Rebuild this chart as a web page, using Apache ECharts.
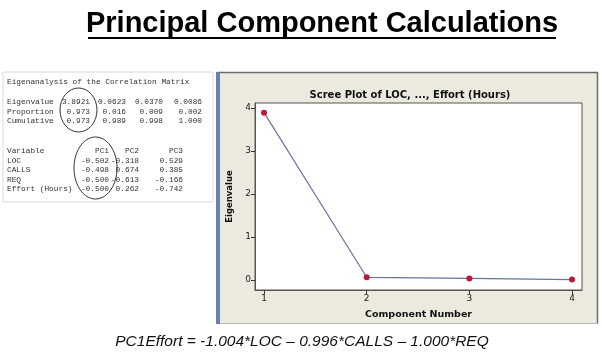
<!DOCTYPE html>
<html><head><meta charset="utf-8">
<script src="https://cdn.jsdelivr.net/npm/echarts@6/dist/echarts.min.js"></script>
<style>html,body{margin:0;padding:0;background:#fff}#c{width:602px;height:364px}</style>
</head><body><div id="c"></div>
<script>
// ---- data ----
const components = [1, 2, 3, 4];
const eigenvalues = [3.8921, 0.0623, 0.0370, 0.0086];
const eigenText = ['3.8921', '0.0623', '0.0370', '0.0086'];
const proportion = ['0.973', '0.016', '0.009', '0.002'];
const cumulative = ['0.973', '0.989', '0.998', '1.000'];
const variables = ['LOC', 'CALLS', 'REQ', 'Effort (Hours)'];
const pcHeaders = ['PC1', 'PC2', 'PC3'];
const pc1 = ['-0.502', '-0.498', '-0.500', '-0.500'];
const pc2 = ['-0.318', '0.674', '-0.613', '0.262'];
const pc3 = ['0.529', '0.385', '-0.166', '-0.742'];
const xTicks = [1, 2, 3, 4];
const yTicks = [0, 1, 2, 3, 4];
const pageTitle = 'Principal Component Calculations';
const chartTitle = 'Scree Plot of LOC, ..., Effort (Hours)';
const equation = 'PC1Effort = -1.004*LOC \u2013 0.996*CALLS \u2013 1.000*REQ';

// ---- build ----
const mono = { fontFamily: 'Liberation Mono', fontSize: 7.8, fill: '#333' };
const g = [];
function txt(x, y, t, align, extra) {
  g.push({ type: 'text', x: x, y: y, z: 5,
    style: Object.assign({ text: t, textAlign: align || 'left', textVerticalAlign: 'middle' }, mono, extra || {}) });
}
// backgrounds
g.push({ type: 'rect', z: -10, shape: { x: 3, y: 72, width: 210, height: 130 }, style: { fill: '#fff', stroke: '#dadada', lineWidth: 1 } });
g.push({ type: 'rect', z: -10, shape: { x: 217, y: 72, width: 381, height: 252 }, style: { fill: '#ECE9DF', stroke: null } });
g.push({ type: 'line', z: -9, shape: { x1: 217, y1: 72.5, x2: 598, y2: 72.5 }, style: { stroke: '#6b6b6b', lineWidth: 1.5 } });
g.push({ type: 'line', z: -9, shape: { x1: 597.5, y1: 72, x2: 597.5, y2: 324 }, style: { stroke: '#6b6b6b', lineWidth: 1.5 } });
g.push({ type: 'line', z: -9, shape: { x1: 217, y1: 323.5, x2: 598, y2: 323.5 }, style: { stroke: '#b8b6ad', lineWidth: 1 } });
g.push({ type: 'rect', z: -9, shape: { x: 216, y: 72, width: 4, height: 252 }, style: { fill: '#6680b0' } });
// page title + underline
g.push({ type: 'text', x: 322, y: 24, style: { text: pageTitle, textAlign: 'center', textVerticalAlign: 'middle', fontFamily: 'Liberation Sans', fontWeight: 'bold', fontSize: 29, fill: '#000' } });
g.push({ type: 'line', shape: { x1: 88, y1: 38, x2: 556, y2: 38 }, style: { stroke: '#000', lineWidth: 2 } });
// equation
g.push({ type: 'text', x: 302, y: 342, style: { text: equation, textAlign: 'center', textVerticalAlign: 'middle', fontFamily: 'Liberation Sans', fontStyle: 'italic', fontSize: 15.5, fill: '#111' } });
// eigen table
txt(7, 82, 'Eigenanalysis of the Correlation Matrix');
const eRows = [['Eigenvalue', eigenText], ['Proportion', proportion], ['Cumulative', cumulative]];
const eCols = [90, 126, 163, 202];
eRows.forEach((r, i) => {
  const y = 102 + i * 9.6;
  txt(7, y, r[0]);
  r[1].forEach((v, j) => txt(eCols[j], y, v, 'right'));
});
const vCols = [109, 139, 183];
txt(7, 151, 'Variable');
pcHeaders.forEach((h, j) => txt(vCols[j], 151, h, 'right'));
variables.forEach((v, i) => {
  const y = 160.5 + i * 9.6;
  txt(7, y, v);
  [pc1, pc2, pc3].forEach((col, j) => txt(vCols[j], y, col[i], 'right'));
});
// ellipses
g.push({ type: 'ellipse', z: 6, shape: { cx: 78.5, cy: 110, rx: 18.5, ry: 22 }, style: { fill: null, stroke: '#333', lineWidth: 1 } });
g.push({ type: 'ellipse', z: 6, shape: { cx: 95.5, cy: 168, rx: 21.5, ry: 31 }, style: { fill: null, stroke: '#333', lineWidth: 1 } });

const chart = echarts.init(document.getElementById('c'), null, { renderer: 'canvas' });
chart.setOption({
  animation: false,
  title: { text: chartTitle, left: 405, top: 85, textAlign: 'center',
    textStyle: { fontFamily: 'DejaVu Sans', fontWeight: 'bold', fontSize: 10, color: '#111' } },
  grid: { left: 255, top: 103, width: 327, height: 187, show: true, backgroundColor: '#fff', borderColor: '#555', borderWidth: 1 },
  xAxis: {
    type: 'value', min: 0.912, max: 4.097,
    axisLine: { show: true, onZero: false, lineStyle: { color: '#555' } },
    axisTick: { show: true, customValues: xTicks, length: 4, lineStyle: { color: '#333' } },
    axisLabel: { customValues: xTicks, fontSize: 9, color: '#222', margin: 4, fontFamily: 'DejaVu Sans' },
    splitLine: { show: false },
    name: 'Component Number', nameLocation: 'middle', nameGap: 20,
    nameTextStyle: { fontFamily: 'DejaVu Sans', fontWeight: 'bold', fontSize: 9.5, color: '#111' }
  },
  yAxis: {
    type: 'value', min: -0.233, max: 4.116,
    axisLine: { show: true, onZero: false, lineStyle: { color: '#555' } },
    axisTick: { show: true, customValues: yTicks, length: 4, lineStyle: { color: '#333' } },
    axisLabel: { customValues: yTicks, fontSize: 9, color: '#222', margin: 4, fontFamily: 'DejaVu Sans' },
    splitLine: { show: false },
    name: 'Eigenvalue', nameLocation: 'middle', nameGap: 17, nameRotate: 90,
    nameTextStyle: { fontFamily: 'DejaVu Sans', fontWeight: 'bold', fontSize: 8.5, color: '#111' }
  },
  series: [{
    type: 'line',
    data: components.map((c, i) => [c, eigenvalues[i]]),
    symbol: 'circle', symbolSize: 6,
    itemStyle: { color: '#c0163a' },
    lineStyle: { color: '#6a72a0', width: 1.2 }
  }],
  graphic: g
});
</script></body></html>
